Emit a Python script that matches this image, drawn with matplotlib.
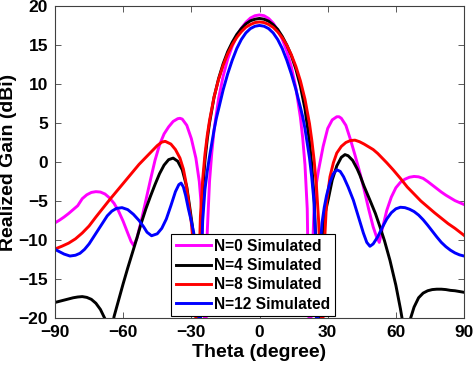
import matplotlib
matplotlib.use("Agg")
import matplotlib.pyplot as plt

# ---- data ----
theta_n0 = [-90, -88, -86, -84, -82, -80, -78, -76, -74, -72, -70, -68, -66, -64, -62, -60, -58, -56.5, -55.4, -54,
            -52, -50, -48, -46, -44, -42, -40, -38, -36, -35, -34, -32, -30, -28, -26.5, -25.5, -24.6, -23.8, -23, -22,
            -21, -20, -18, -16, -14, -12, -10, -8, -6, -4, -2, 0, 2, 4, 6, 8, 10, 12, 14, 16,
            18, 19, 20, 21, 22.2, 23, 24, 25, 26, 28, 30, 32, 34, 35, 36, 38, 40, 42, 44, 46,
            48, 50, 51.5, 52.7, 54, 56, 58, 60, 62, 64, 66, 68, 70, 72, 74, 76, 78, 80, 82, 84, 86, 88, 90]
gain_n0 = [-7.8, -7.45, -7.05, -6.6, -6.1, -5.6, -4.7, -4.2, -3.9, -3.8, -3.85, -4.1, -4.6, -5.3, -6.3, -7.6, -9.1, -10.2, -10.7, -9.8,
           -7.5, -4.9, -2.3, 0.2, 2.2, 3.6, 4.5, 5.2, 5.55, 5.6, 5.5, 4.7, 3.0, 0.5, -2.5, -6.0, -13.0, -28.0, -9.0, -2.5,
           1.2, 4.1, 8.15, 11.0, 13.2, 14.85, 16.15, 17.15, 17.9, 18.45, 18.75, 18.85, 18.75, 18.4, 17.8, 16.9, 15.75, 14.2, 12.2, 9.5,
           5.7, 3.1, -0.35, -6.0, -28.0, -14.0, -6.0, -2.8, -1.0, 2.0, 4.3, 5.4, 5.8, 5.8, 5.6, 4.7, 2.9, 0.9, -1.2, -3.5,
           -6.0, -8.3, -9.6, -10.3, -8.6, -6.2, -4.5, -3.3, -2.6, -2.2, -1.95, -1.85, -1.9, -2.1, -2.5, -2.95, -3.4, -3.85, -4.25, -4.6, -4.95, -5.2, -5.45]

theta_n4 = [-90, -88, -86, -84, -82, -80, -78, -76, -74, -72, -70, -68, -67, -66, -65, -64, -62, -60, -58, -56,
            -54, -52, -50, -48, -46, -44, -42, -40, -38, -36, -34, -32, -30.5, -29.5, -28.5, -27.8, -27, -26, -25, -24,
            -23, -22, -20, -18, -16, -14, -12, -10, -8, -6, -4, -2, 0, 2, 4, 6, 8, 10, 12, 14,
            16, 18, 20, 22, 23, 24, 25, 25.7, 26.4, 27, 28, 29, 30.3, 32, 34, 36, 37.6, 39, 41, 43,
            44.2, 46, 48.6, 51, 53, 55, 57.4, 60, 62, 63, 64.3, 65.5, 66.5, 68, 70, 72, 74, 76, 78, 80,
            82, 84, 86, 88, 90]
gain_n4 = [-18.0, -17.85, -17.7, -17.55, -17.4, -17.3, -17.25, -17.35, -17.6, -18.1, -18.9, -20.1, -21.3, -22.5, -21.5, -19.8, -17.7, -15.6, -13.6, -11.7,
           -9.8, -7.8, -6.0, -4.4, -2.9, -1.5, -0.4, 0.3, 0.5, 0.1, -1.0, -3.2, -6.2, -8.3, -11.5, -16.0, -28.0, -9.9, -3.6, 0.2,
           2.9, 5.0, 8.3, 10.7, 12.6, 14.15, 15.35, 16.35, 17.1, 17.7, 18.1, 18.3, 18.4, 18.3, 18.05, 17.6, 17.0, 16.1, 15.0, 13.65,
           11.9, 9.7, 6.8, 2.6, -0.4, -4.6, -12.0, -28.0, -14.0, -11.0, -8.4, -6.4, -4.7, -2.3, -0.5, 0.6, 0.95, 0.8, 0.2, -0.9,
           -1.7, -3.1, -4.9, -6.6, -8.3, -10.1, -12.6, -15.8, -18.8, -20.5, -22.5, -21.5, -20.0, -18.6, -17.4, -16.8, -16.5, -16.35, -16.3, -16.3,
           -16.35, -16.45, -16.5, -16.6, -16.7]

theta_n8 = [-90, -87, -84, -81, -78, -75, -72, -69, -66, -63, -60, -57, -55, -53, -51, -49, -47, -45, -43, -41.5,
            -39, -37, -35, -33.5, -32.5, -31.3, -30, -29, -28.3, -27.5, -27, -26, -25, -24, -23, -22, -20, -18, -16, -14,
            -12, -10, -8, -6, -4, -2, 0, 2, 4, 6, 8, 10, 12, 14, 16, 18, 20, 22, 23, 24,
            25, 26, 27, 27.6, 28.3, 29.5, 31, 32.5, 34, 36, 38, 40, 42, 44, 46, 48, 50, 52, 54, 56,
            58.8, 62, 65, 68, 71, 74, 77, 80, 83, 86, 90]
gain_n8 = [-11.15, -10.8, -10.4, -9.85, -9.1, -8.2, -7.05, -5.95, -4.85, -3.8, -2.75, -1.7, -1.0, -0.3, 0.3, 0.9, 1.5, 2.1, 2.55, 2.65,
           2.3, 1.6, 0.5, -0.9, -2.4, -4.9, -7.8, -11.0, -16.0, -28.0, -17.0, -6.9, -2.2, 1.0, 3.4, 5.3, 8.35, 10.6, 12.4, 13.87,
           15.03, 15.97, 16.7, 17.27, 17.62, 17.87, 17.95, 17.87, 17.63, 17.26, 16.68, 15.93, 14.97, 13.75, 12.25, 10.4, 8.05, 4.9, 2.8, 0.3,
           -2.9, -7.5, -15.0, -28.0, -12.0, -5.2, -1.9, -0.1, 1.15, 2.0, 2.5, 2.75, 2.8, 2.6, 2.3, 1.95, 1.6, 1.1, 0.5, -0.1,
           -1.0, -2.1, -3.2, -4.1, -5.0, -5.75, -6.5, -7.2, -7.9, -8.5, -9.4]

theta_n12 = [-90, -88, -86, -83.4, -81, -79, -77, -75, -73, -71, -69, -67, -65, -63, -60.5, -58, -55.5, -53, -51, -49.5,
             -47.5, -45, -43, -41, -39, -37, -35.5, -34.5, -33.5, -32.5, -31.3, -30, -29, -28, -27, -26.2, -25.7, -25, -24, -23,
             -22, -20, -19, -18, -16, -14, -12, -10, -8, -6, -4, -2, 0, 2, 4, 6, 8, 10, 12, 14,
             16, 18, 19, 20, 22, 23, 24, 24.7, 25.3, 25.9, 26.5, 27.5, 28.5, 29.5, 31, 32.5, 34, 35.5, 37, 39,
             41.3, 43.5, 45.7, 47.2, 48.6, 50, 52, 54, 56, 58, 60, 62, 64, 66, 68, 70, 72, 74, 76, 78,
             80, 82, 84, 86, 88, 90]
gain_n12 = [-11.2, -11.5, -11.8, -12.05, -11.95, -11.7, -11.2, -10.5, -9.6, -8.7, -7.8, -6.9, -6.3, -5.95, -5.85, -6.1, -6.7, -7.5, -8.3, -9.0,
            -9.45, -9.2, -8.5, -7.3, -5.6, -3.8, -2.9, -2.7, -3.2, -4.3, -6.0, -7.6, -9.0, -11.0, -14.0, -28.0, -13.0, -7.5, -3.5, -1.2,
            0.7, 4.1, 5.6, 6.8, 9.25, 11.3, 13.05, 14.55, 15.7, 16.55, 17.1, 17.4, 17.5, 17.4, 17.1, 16.55, 15.7, 14.55, 13.05, 11.3,
            9.3, 7.0, 5.8, 4.3, 0.5, -2.0, -5.2, -10.0, -28.0, -16.0, -11.5, -7.8, -5.8, -4.3, -2.6, -1.5, -1.0, -1.2, -1.9, -3.2,
            -4.9, -7.0, -9.1, -10.3, -10.8, -10.5, -9.6, -8.4, -7.3, -6.5, -6.0, -5.8, -5.85, -6.05, -6.35, -6.8, -7.4, -8.1, -8.85, -9.6,
            -10.3, -10.85, -11.3, -11.65, -11.9, -12.05]

labels = ["N=0 Simulated", "N=4 Simulated", "N=8 Simulated", "N=12 Simulated"]
colors = ["#FF00FF", "#000000", "#FF0000", "#0000FF"]
xticks = [-90, -60, -30, 0, 30, 60, 90]
yticks = [-20, -15, -10, -5, 0, 5, 10, 15, 20]

plt.rcParams['font.family'] = ['Liberation Sans', 'DejaVu Sans']
plt.rcParams['font.weight'] = 'bold'

fig = plt.figure(figsize=(4.74, 3.72), dpi=100)
ax = fig.add_axes([0.116, 0.145, 0.863, 0.839])

series = [(theta_n0, gain_n0), (theta_n4, gain_n4), (theta_n8, gain_n8), (theta_n12, gain_n12)]
for (t, g), lab, c in zip(series, labels, colors):
    ax.plot(t, g, color=c, lw=2.1, label=lab, solid_joinstyle='round')

ax.set_xlim(-90, 90)
ax.set_ylim(-20, 20)
ax.set_xticks(xticks)
ax.set_yticks(yticks)
ax.tick_params(direction='in', length=4, width=0.6, top=True, right=True,
               labelsize=12.5, pad=5, color='#404040')
for lab in ax.get_xticklabels() + ax.get_yticklabels():
    lab.set_fontweight('bold')
for s in ax.spines.values():
    s.set_color('#404040')
    s.set_linewidth(0.8)

ax.set_xlabel("Theta (degree)", fontsize=14, fontweight='bold', labelpad=3)
ax.set_ylabel("Realized Gain (dBi)", fontsize=14, fontweight='bold', labelpad=1)

leg = ax.legend(loc='lower left', bbox_to_anchor=(0.284, 0.006), fontsize=11.2,
                frameon=True, fancybox=False, framealpha=1, edgecolor='#000000',
                borderpad=0.28, labelspacing=0.28, handlelength=2.3, handletextpad=0.2,
                borderaxespad=0.0)
leg.get_frame().set_linewidth(0.8)
for txt in leg.get_texts():
    txt.set_fontweight('bold')

fig.savefig("out.png", dpi=100)
